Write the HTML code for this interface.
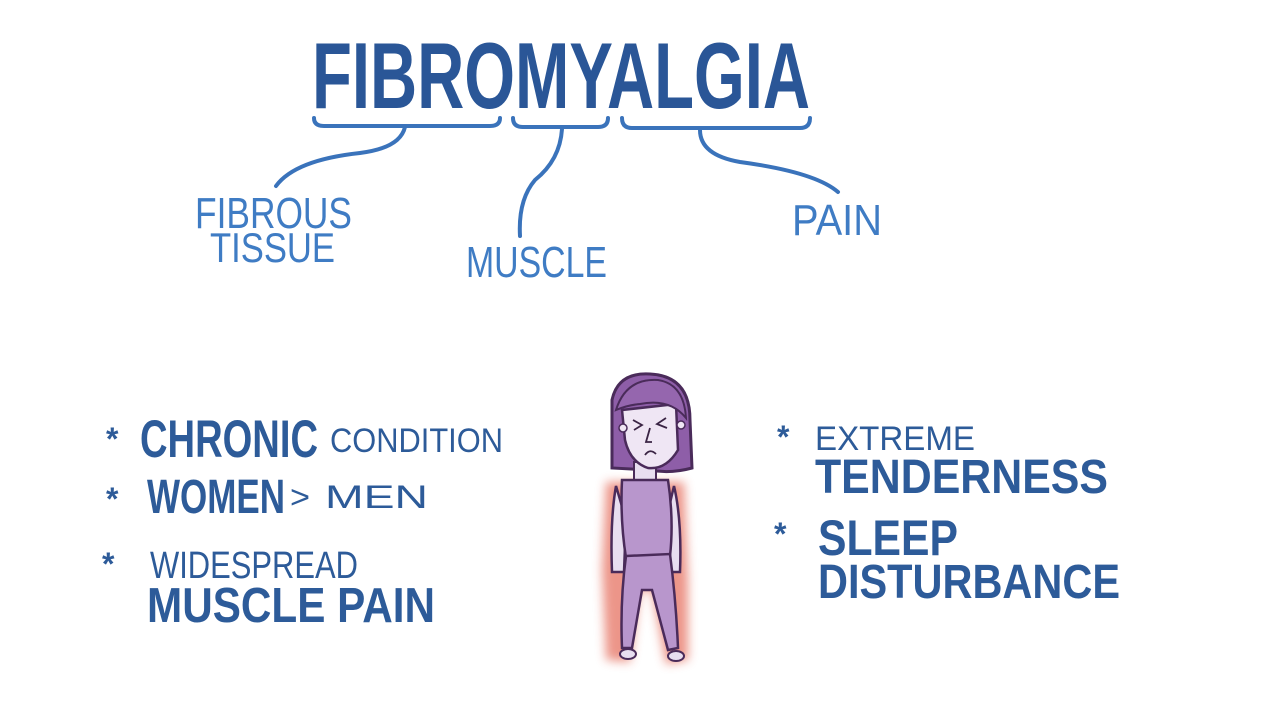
<!DOCTYPE html>
<html><head><style>
html,body{margin:0;padding:0;background:#fff;}
svg{display:block}
text{font-family:"Liberation Sans",sans-serif;}
</style></head><body>
<svg width="1280" height="720" viewBox="0 0 1280 720">
<defs>
<filter id="glow" x="-50%" y="-20%" width="200%" height="140%"><feGaussianBlur stdDeviation="5"/></filter>
</defs>
<!-- Title -->
<text x="312" y="108" font-size="94" font-weight="bold" fill="#2a5697" textLength="498" lengthAdjust="spacingAndGlyphs">FIBROMYALGIA</text>
<g fill="none" stroke="#3a73bb" stroke-width="4" stroke-linecap="round">
<path d="M314 118 Q314 126 324 126 L490 126 Q500 126 500 118"/>
<path d="M513 118 Q513 127 523 127 L598 127 Q608 127 608 118"/>
<path d="M622 118 Q622 128 632 128 L800 128 Q810 128 810 118"/>
<path d="M405 127 Q400 148 360 153 Q295 160 276 186"/>
<path d="M562 129 Q560 160 535 180 Q518 200 520 236"/>
<path d="M700 130 Q700 155 740 162 Q815 172 838 192"/>
</g>
<g fill="#3f7cc4">
<text x="195" y="228" font-size="44" textLength="157" lengthAdjust="spacingAndGlyphs">FIBROUS</text>
<text x="210" y="262" font-size="42" textLength="125" lengthAdjust="spacingAndGlyphs">TISSUE</text>
<text x="466" y="277" font-size="44" textLength="141" lengthAdjust="spacingAndGlyphs">MUSCLE</text>
<text x="792" y="235" font-size="44" textLength="90" lengthAdjust="spacingAndGlyphs">PAIN</text>
</g>
<!-- Left bullets -->
<g fill="#2d5b99">
<text x="106" y="450" font-size="32" font-weight="bold">*</text>
<text x="140" y="457" font-size="53" font-weight="bold" textLength="178" lengthAdjust="spacingAndGlyphs">CHRONIC</text>
<text x="330" y="452" font-size="34" textLength="173" lengthAdjust="spacingAndGlyphs">CONDITION</text>
<text x="106" y="510" font-size="32" font-weight="bold">*</text>
<text x="147" y="513" font-size="48" font-weight="bold" textLength="138" lengthAdjust="spacingAndGlyphs">WOMEN</text>
<text x="290" y="508" font-size="32" textLength="20" lengthAdjust="spacingAndGlyphs">&gt;</text>
<text x="325" y="508" font-size="32" textLength="103" lengthAdjust="spacingAndGlyphs">MEN</text>
<text x="102" y="575" font-size="32" font-weight="bold">*</text>
<text x="150" y="578" font-size="38" textLength="208" lengthAdjust="spacingAndGlyphs">WIDESPREAD</text>
<text x="147" y="622" font-size="49" font-weight="bold" textLength="288" lengthAdjust="spacingAndGlyphs">MUSCLE PAIN</text>
<!-- Right bullets -->
<text x="777" y="448" font-size="32" font-weight="bold">*</text>
<text x="815" y="450" font-size="34" textLength="160" lengthAdjust="spacingAndGlyphs">EXTREME</text>
<text x="815" y="493" font-size="48" font-weight="bold" textLength="293" lengthAdjust="spacingAndGlyphs">TENDERNESS</text>
<text x="774" y="545" font-size="32" font-weight="bold">*</text>
<text x="818" y="555" font-size="50" font-weight="bold" textLength="140" lengthAdjust="spacingAndGlyphs">SLEEP</text>
<text x="818" y="598" font-size="48" font-weight="bold" textLength="302" lengthAdjust="spacingAndGlyphs">DISTURBANCE</text>
</g>
<!-- Figure -->
<g>
<path d="M606 482 L684 482 L688 580 L688 660 L666 664 L652 590 L640 590 L630 662 L606 660 L602 570 Z" fill="#e0503a" opacity="0.6" filter="url(#glow)"/>
<path d="M612 400 Q618 372 650 374 Q690 376 690 420 L692 468 Q670 474 650 470 L612 468 Z" fill="#8e5ea8" stroke="#4a2b5a" stroke-width="3"/>
<rect x="634" y="462" width="22" height="20" fill="#e8def0" stroke="#4a2b5a" stroke-width="2"/>
<path d="M622 410 L676 404 L678 450 Q666 470 648 468 Q630 462 625 440 Z" fill="#efe6f4" stroke="#4a2b5a" stroke-width="2.5"/>
<path d="M616 410 Q626 378 658 380 Q684 384 686 418 Q670 398 640 404 Q628 405 616 410Z" fill="#9566ae" stroke="#4a2b5a" stroke-width="2"/>
<circle cx="623" cy="428" r="4" fill="#efe6f4" stroke="#4a2b5a" stroke-width="1.5"/>
<circle cx="681" cy="425" r="4" fill="#efe6f4" stroke="#4a2b5a" stroke-width="1.5"/>
<g stroke="#3a2444" stroke-width="1.8" fill="none">
<path d="M633 420 L642 425 L634 430"/><path d="M666 418 L657 424 L667 428"/>
<path d="M650 428 L646 442 L652 442"/><path d="M645 455 Q650 448 656 454"/>
</g>
<path d="M616 486 Q610 520 612 572 L624 572 L626 520 Z" fill="#e8def0" stroke="#4a2b5a" stroke-width="2.5"/>
<path d="M674 486 Q682 520 680 572 L668 572 L666 520 Z" fill="#e8def0" stroke="#4a2b5a" stroke-width="2.5"/>
<path d="M622 480 L668 480 Q674 520 670 556 L626 558 Q620 520 622 480Z" fill="#b896cc" stroke="#4a2b5a" stroke-width="2.5"/>
<path d="M626 556 L670 554 Q676 600 678 648 L668 650 L652 590 L642 590 L632 648 L622 648 Q620 600 626 556Z" fill="#b896cc" stroke="#4a2b5a" stroke-width="2.5"/>
<ellipse cx="628" cy="654" rx="8" ry="5" fill="#e8def0" stroke="#4a2b5a" stroke-width="2"/>
<ellipse cx="676" cy="656" rx="8" ry="5" fill="#e8def0" stroke="#4a2b5a" stroke-width="2"/>
</g>
</svg>
</body></html>
